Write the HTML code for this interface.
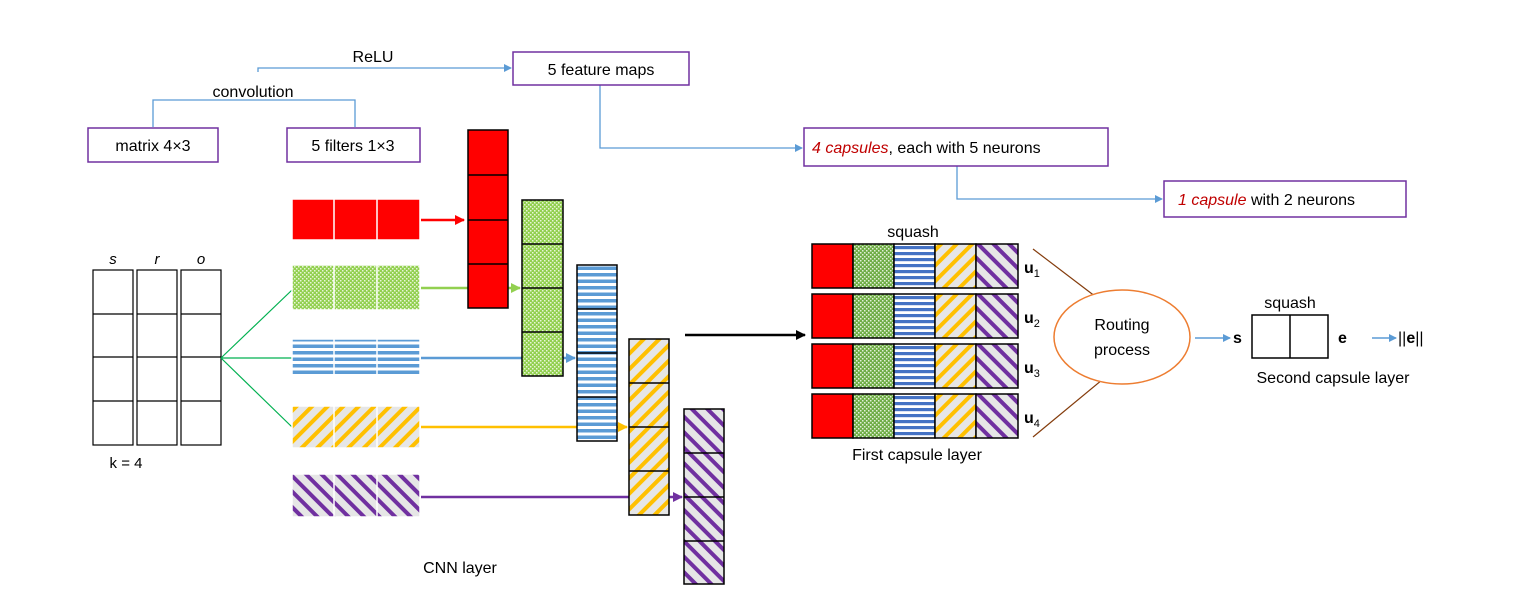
<!DOCTYPE html>
<html><head><meta charset="utf-8"><style>
html,body{margin:0;padding:0;background:#fff;}
svg{display:block;font-family:"Liberation Sans",sans-serif;}
</style></head><body>
<svg width="1520" height="596" viewBox="0 0 1520 596" xmlns="http://www.w3.org/2000/svg">
<defs>
<pattern id="gr" width="4" height="4" patternUnits="userSpaceOnUse">
<rect width="4" height="4" fill="#92d050"/><rect x="0" y="0" width="1.5" height="1.5" fill="#e8f5d8"/><rect x="2" y="2" width="1.5" height="1.5" fill="#e8f5d8"/></pattern>
<pattern id="gr2" width="4" height="4" patternUnits="userSpaceOnUse">
<rect width="4" height="4" fill="#70ad47"/><rect x="0" y="0" width="1.5" height="1.5" fill="#e2f0d9"/><rect x="2" y="2" width="1.5" height="1.5" fill="#e2f0d9"/></pattern>
<pattern id="bl" width="6.5" height="6.5" patternUnits="userSpaceOnUse">
<rect width="6.5" height="6.5" fill="#fff"/><rect y="0" width="6.5" height="3.5" fill="#5b9bd5"/></pattern>
<pattern id="bl2" width="6" height="6" patternUnits="userSpaceOnUse">
<rect width="6" height="6" fill="#fff"/><rect y="0" width="6" height="3.2" fill="#4472c4"/></pattern>
<pattern id="ye" width="11" height="11" patternUnits="userSpaceOnUse" patternTransform="rotate(45)">
<rect width="11" height="11" fill="#e6e6e6"/><rect width="4" height="11" fill="#ffc000"/></pattern>
<pattern id="pu" width="11" height="11" patternUnits="userSpaceOnUse" patternTransform="rotate(-45)">
<rect width="11" height="11" fill="#e6e6e6"/><rect width="4" height="11" fill="#7030a0"/></pattern>
<marker id="ab" markerWidth="8" markerHeight="8" refX="7" refY="4" orient="auto" markerUnits="userSpaceOnUse"><path d="M0,0L8,4L0,8z" fill="#5b9bd5"/></marker>
<marker id="ar" markerWidth="10" markerHeight="10" refX="9" refY="5" orient="auto" markerUnits="userSpaceOnUse"><path d="M0,0L10,5L0,10z" fill="#f00"/></marker>
<marker id="ag" markerWidth="10" markerHeight="10" refX="9" refY="5" orient="auto" markerUnits="userSpaceOnUse"><path d="M0,0L10,5L0,10z" fill="#92d050"/></marker>
<marker id="abl" markerWidth="10" markerHeight="10" refX="9" refY="5" orient="auto" markerUnits="userSpaceOnUse"><path d="M0,0L10,5L0,10z" fill="#5b9bd5"/></marker>
<marker id="ay" markerWidth="10" markerHeight="10" refX="9" refY="5" orient="auto" markerUnits="userSpaceOnUse"><path d="M0,0L10,5L0,10z" fill="#ffc000"/></marker>
<marker id="ap" markerWidth="10" markerHeight="10" refX="9" refY="5" orient="auto" markerUnits="userSpaceOnUse"><path d="M0,0L10,5L0,10z" fill="#7030a0"/></marker>
<marker id="ak" markerWidth="10" markerHeight="10" refX="9" refY="5" orient="auto" markerUnits="userSpaceOnUse"><path d="M0,0L10,5L0,10z" fill="#000"/></marker>
</defs>

<!-- top flow -->
<g fill="none" stroke="#5b9bd5" stroke-width="1.3">
<polyline points="258,72 258,68 511,68" marker-end="url(#ab)"/>
<polyline points="153,127 153,100 355,100 355,127"/>
<polyline points="600,85 600,148 802,148" marker-end="url(#ab)"/>
<polyline points="957,166 957,199 1162,199" marker-end="url(#ab)"/>
</g>
<g fill="#fff" stroke="#7030a0" stroke-width="1.5">
<rect x="513" y="52" width="176" height="33"/>
<rect x="88" y="128" width="130" height="34"/>
<rect x="287" y="128" width="133" height="34"/>
<rect x="804" y="128" width="304" height="38"/>
<rect x="1164" y="181" width="242" height="36"/>
</g>
<g font-size="16" fill="#000">
<text x="373" y="62" text-anchor="middle">ReLU</text>
<text x="253" y="97" text-anchor="middle">convolution</text>
<text x="601" y="75" text-anchor="middle">5 feature maps</text>
<text x="153" y="151" text-anchor="middle">matrix 4×3</text>
<text x="353" y="151" text-anchor="middle">5 filters 1×3</text>
<text x="812" y="153"><tspan fill="#c00000" font-style="italic">4 capsules</tspan>, each with 5 neurons</text>
<text x="1178" y="205"><tspan fill="#c00000" font-style="italic">1 capsule</tspan> with 2 neurons</text>
</g>

<!-- matrix -->
<g fill="none" stroke="#000" stroke-width="1.2">
<rect x="93" y="270" width="40" height="175"/><rect x="137" y="270" width="40" height="175"/><rect x="181" y="270" width="40" height="175"/>
<path d="M93,314H133M93,357H133M93,401H133M137,314H177M137,357H177M137,401H177M181,314H221M181,357H221M181,401H221"/>
</g>
<g font-size="15" font-style="italic"><text x="113" y="264" text-anchor="middle">s</text><text x="157" y="264" text-anchor="middle">r</text><text x="201" y="264" text-anchor="middle">o</text></g>
<text x="126" y="468" font-size="15" text-anchor="middle">k = 4</text>
<g stroke="#00b050" stroke-width="1.2"><line x1="221" y1="358" x2="292" y2="290"/><line x1="221" y1="358" x2="292" y2="358"/><line x1="221" y1="358" x2="292" y2="427"/></g>

<!-- filters -->
<g stroke="#fff" stroke-width="1.5">
<rect x="292" y="199" width="128" height="41" fill="#f00"/>
<rect x="292" y="265" width="128" height="45" fill="url(#gr)"/>
<rect x="292" y="339" width="128" height="36" fill="url(#bl)"/>
<rect x="292" y="406" width="128" height="42" fill="url(#ye)"/>
<rect x="292" y="474" width="128" height="43" fill="url(#pu)"/>
<path d="M334,199V240M377,199V240M334,265V310M377,265V310M334,339V375M377,339V375M334,406V448M377,406V448M334,474V517M377,474V517"/>
</g>

<!-- arrows -->
<g stroke-width="2.5" fill="none">
<line x1="421" y1="220" x2="464" y2="220" stroke="#f00" marker-end="url(#ar)"/>
<line x1="421" y1="288" x2="520" y2="288" stroke="#92d050" marker-end="url(#ag)"/>
<line x1="421" y1="358" x2="575" y2="358" stroke="#5b9bd5" marker-end="url(#abl)"/>
<line x1="421" y1="427" x2="627" y2="427" stroke="#ffc000" marker-end="url(#ay)"/>
<line x1="421" y1="497" x2="682" y2="497" stroke="#7030a0" marker-end="url(#ap)"/>
<line x1="685" y1="335" x2="805" y2="335" stroke="#000" marker-end="url(#ak)"/>
</g>

<!-- columns -->
<g stroke="#000" stroke-width="1.5">
<rect x="468" y="130" width="40" height="178" fill="#f00"/>
<path d="M468,175H508M468,220H508M468,264H508"/>
<rect x="522" y="200" width="41" height="176" fill="url(#gr)"/>
<path d="M522,244H563M522,288H563M522,332H563"/>
<rect x="577" y="265" width="40" height="176" fill="url(#bl)"/>
<path d="M577,309H617M577,353H617M577,397H617"/>
<rect x="629" y="339" width="40" height="176" fill="url(#ye)"/>
<path d="M629,383H669M629,427H669M629,471H669"/>
<rect x="684" y="409" width="40" height="175" fill="url(#pu)"/>
<path d="M684,453H724M684,497H724M684,541H724"/>
</g>
<text x="460" y="573" font-size="16" text-anchor="middle">CNN layer</text>

<!-- capsule grid -->
<g stroke="#000" stroke-width="1.5">
<g id="row">
<rect x="812" y="244" width="41" height="44" fill="#f00"/>
<rect x="853" y="244" width="41" height="44" fill="url(#gr2)"/>
<rect x="894" y="244" width="41" height="44" fill="url(#bl2)"/>
<rect x="935" y="244" width="41" height="44" fill="url(#ye)"/>
<rect x="976" y="244" width="42" height="44" fill="url(#pu)"/>
</g>
<use href="#row" y="50"/><use href="#row" y="100"/><use href="#row" y="150"/>
</g>
<text x="913" y="237" font-size="16" text-anchor="middle">squash</text>
<text x="917" y="460" font-size="16" text-anchor="middle">First capsule layer</text>
<g font-size="16" font-weight="bold">
<text x="1024" y="273">u<tspan font-size="11" font-weight="normal" dy="4">1</tspan></text>
<text x="1024" y="323">u<tspan font-size="11" font-weight="normal" dy="4">2</tspan></text>
<text x="1024" y="373">u<tspan font-size="11" font-weight="normal" dy="4">3</tspan></text>
<text x="1024" y="423">u<tspan font-size="11" font-weight="normal" dy="4">4</tspan></text>
</g>
<g stroke="#843c0c" stroke-width="1.2"><line x1="1033" y1="249" x2="1100" y2="300"/><line x1="1108" y1="375" x2="1033" y2="437"/></g>
<ellipse cx="1122" cy="337" rx="68" ry="47" fill="#fff" stroke="#ed7d31" stroke-width="1.5"/>
<text x="1122" y="330" font-size="16" text-anchor="middle">Routing</text>
<text x="1122" y="355" font-size="16" text-anchor="middle">process</text>
<line x1="1195" y1="338" x2="1230" y2="338" stroke="#5b9bd5" stroke-width="1.5" marker-end="url(#ab)"/>
<text x="1233" y="343" font-size="16" font-weight="bold">s</text>
<rect x="1252" y="315" width="76" height="43" fill="none" stroke="#000" stroke-width="1.5"/>
<line x1="1290" y1="315" x2="1290" y2="358" stroke="#000" stroke-width="1.5"/>
<text x="1290" y="308" font-size="16" text-anchor="middle">squash</text>
<text x="1338" y="343" font-size="16" font-weight="bold">e</text>
<line x1="1372" y1="338" x2="1396" y2="338" stroke="#5b9bd5" stroke-width="1.5" marker-end="url(#ab)"/>
<text x="1398" y="343" font-size="16">||<tspan font-weight="bold">e</tspan>||</text>
<text x="1333" y="383" font-size="16" text-anchor="middle">Second capsule layer</text>
</svg>
</body></html>
